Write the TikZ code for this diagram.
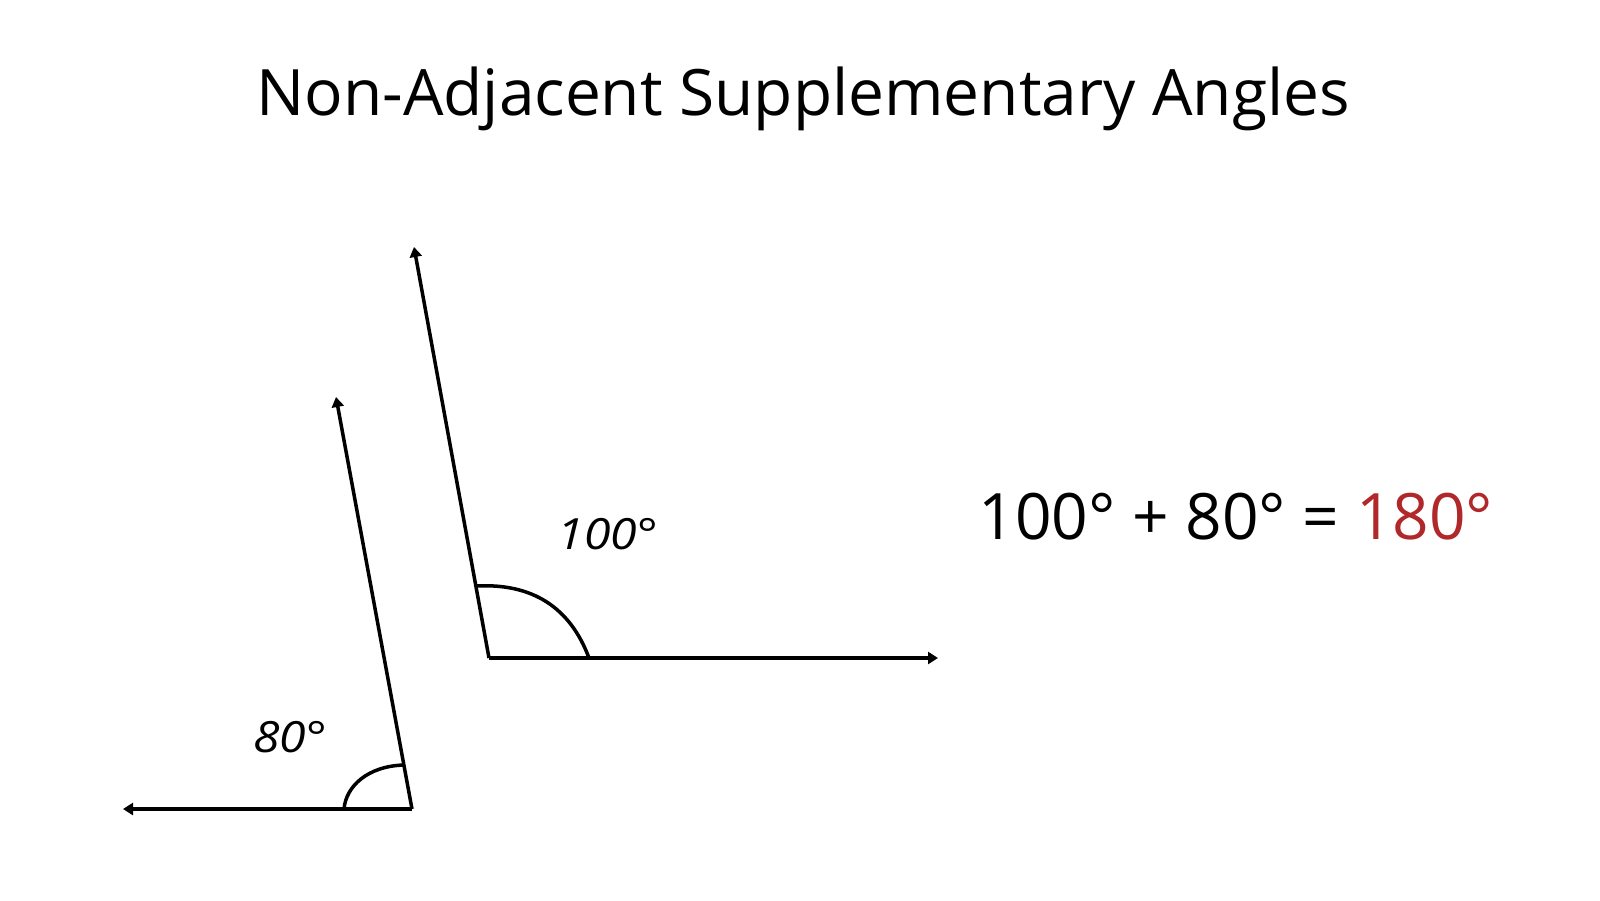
\documentclass[tikz,border=0pt]{standalone}
\usepackage{fontspec}
\setmainfont{Open Sans}
\usetikzlibrary{arrows.meta}
\definecolor{sumred}{RGB}{176,40,42}
\tikzset{
  ray/.style={line width=3.5pt, -{Triangle[length=10pt,width=12pt]}},
  anglearc/.style={line width=3.5pt},
  anglelabel/.style={anchor=base, inner sep=0pt, xscale=1.12, font=\fontsize{43}{50}\selectfont\itshape},
}
\begin{document}
\begin{tikzpicture}[x=1pt,y=-1pt]
\useasboundingbox[fill=white] (0,0) rectangle (1600,900);
% title
\node[anchor=base, inner sep=0pt, font=\fontsize{64}{76}\selectfont] (title) at (803,115) {Non-Adjacent Supplementary Angles};
% angle 100
\coordinate (v1) at (489,658);
\coordinate (t1) at (414,247);
\coordinate (h1) at (938,658);
\draw[ray] (v1) -- (t1);
\draw[ray] (v1) -- (h1);
\draw[anglearc] (476,586) .. controls (532,583) and (570,607) .. (589,658);
\node[anglelabel] (l100) at (608,549) {100°};
% angle 80
\coordinate (v2) at (412,809);
\coordinate (t2) at (336,397);
\coordinate (h2) at (123,809);
\draw[ray] (v2) -- (t2);
\draw[ray] (v2) -- (h2);
\draw[anglearc] (344,809) .. controls (346,786) and (368,766) .. (404,765);
\node[anglelabel] (l80) at (290,752) {80°};
% equation
\node[anchor=base, inner sep=0pt, font=\fontsize{64}{76}\selectfont] (eq) at (1236,539) {100° + 80° = \textcolor{sumred}{180°}};
\end{tikzpicture}
\end{document}
